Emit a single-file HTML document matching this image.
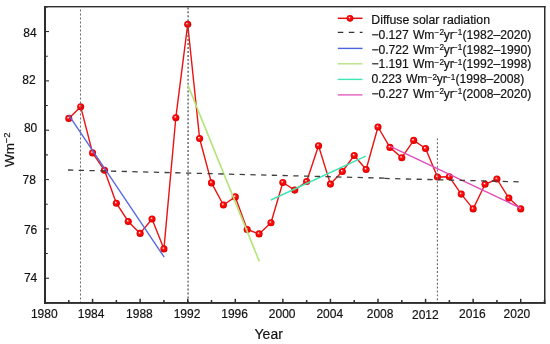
<!DOCTYPE html>
<html><head><meta charset="utf-8"><style>
html,body{margin:0;padding:0;background:#fff;}
body{width:550px;height:344px;overflow:hidden;}
svg{display:block;}
#w{width:550px;height:344px;}
</style></head><body><div id="w">
<svg width="550" height="344" viewBox="0 0 550 344">
<defs>
<radialGradient id="ball" cx="0.5" cy="0.5" r="0.5" fx="0.38" fy="0.36" gradientUnits="objectBoundingBox">
<stop offset="0" stop-color="#ffffff"/>
<stop offset="0.08" stop-color="#ffe8e8"/>
<stop offset="0.22" stop-color="#ff6a6a"/>
<stop offset="0.38" stop-color="#ff1010"/>
<stop offset="0.8" stop-color="#f20000"/>
<stop offset="1" stop-color="#cc0000"/>
</radialGradient>
</defs>
<rect x="0" y="0" width="550" height="344" fill="#ffffff"/>
<polyline points="68.79,118.4 80.68,106.7 92.57,152.9 104.47,170.3 116.36,203.2 128.25,221.5 140.14,233.4 152.04,219 163.93,248.9 175.82,117.7 187.72,24.3 199.61,138.5 211.5,182.9 223.4,205 235.29,196.9 247.18,229.5 259.07,233.9 270.97,222.8 282.86,182.5 294.75,190.1 306.65,181.5 318.54,145.8 330.43,184.1 342.33,171.5 354.22,155.5 366.11,169.5 378,127 389.9,147.4 401.79,157.7 413.68,140.4 425.58,148.5 437.47,177 449.36,176.8 461.25,194.1 473.15,208.9 485.04,184.3 496.93,179 508.83,198.1 520.72,208.9" fill="none" stroke="#ec1212" stroke-width="1.4" stroke-linejoin="round"/>
<circle cx="68.79" cy="118.4" r="3.55" fill="url(#ball)"/>
<circle cx="80.68" cy="106.7" r="3.55" fill="url(#ball)"/>
<circle cx="92.57" cy="152.9" r="3.55" fill="url(#ball)"/>
<circle cx="104.47" cy="170.3" r="3.55" fill="url(#ball)"/>
<circle cx="116.36" cy="203.2" r="3.55" fill="url(#ball)"/>
<circle cx="128.25" cy="221.5" r="3.55" fill="url(#ball)"/>
<circle cx="140.14" cy="233.4" r="3.55" fill="url(#ball)"/>
<circle cx="152.04" cy="219" r="3.55" fill="url(#ball)"/>
<circle cx="163.93" cy="248.9" r="3.55" fill="url(#ball)"/>
<circle cx="175.82" cy="117.7" r="3.55" fill="url(#ball)"/>
<circle cx="187.72" cy="24.3" r="3.55" fill="url(#ball)"/>
<circle cx="199.61" cy="138.5" r="3.55" fill="url(#ball)"/>
<circle cx="211.5" cy="182.9" r="3.55" fill="url(#ball)"/>
<circle cx="223.4" cy="205" r="3.55" fill="url(#ball)"/>
<circle cx="235.29" cy="196.9" r="3.55" fill="url(#ball)"/>
<circle cx="247.18" cy="229.5" r="3.55" fill="url(#ball)"/>
<circle cx="259.07" cy="233.9" r="3.55" fill="url(#ball)"/>
<circle cx="270.97" cy="222.8" r="3.55" fill="url(#ball)"/>
<circle cx="282.86" cy="182.5" r="3.55" fill="url(#ball)"/>
<circle cx="294.75" cy="190.1" r="3.55" fill="url(#ball)"/>
<circle cx="306.65" cy="181.5" r="3.55" fill="url(#ball)"/>
<circle cx="318.54" cy="145.8" r="3.55" fill="url(#ball)"/>
<circle cx="330.43" cy="184.1" r="3.55" fill="url(#ball)"/>
<circle cx="342.33" cy="171.5" r="3.55" fill="url(#ball)"/>
<circle cx="354.22" cy="155.5" r="3.55" fill="url(#ball)"/>
<circle cx="366.11" cy="169.5" r="3.55" fill="url(#ball)"/>
<circle cx="378" cy="127" r="3.55" fill="url(#ball)"/>
<circle cx="389.9" cy="147.4" r="3.55" fill="url(#ball)"/>
<circle cx="401.79" cy="157.7" r="3.55" fill="url(#ball)"/>
<circle cx="413.68" cy="140.4" r="3.55" fill="url(#ball)"/>
<circle cx="425.58" cy="148.5" r="3.55" fill="url(#ball)"/>
<circle cx="437.47" cy="177" r="3.55" fill="url(#ball)"/>
<circle cx="449.36" cy="176.8" r="3.55" fill="url(#ball)"/>
<circle cx="461.25" cy="194.1" r="3.55" fill="url(#ball)"/>
<circle cx="473.15" cy="208.9" r="3.55" fill="url(#ball)"/>
<circle cx="485.04" cy="184.3" r="3.55" fill="url(#ball)"/>
<circle cx="496.93" cy="179" r="3.55" fill="url(#ball)"/>
<circle cx="508.83" cy="198.1" r="3.55" fill="url(#ball)"/>
<circle cx="520.72" cy="208.9" r="3.55" fill="url(#ball)"/>
<line x1="80.5" y1="7.4" x2="80.5" y2="303" stroke="#6e6e6e" stroke-width="1.05" stroke-dasharray="2 2" stroke-dashoffset="-2.0"/>
<line x1="188.1" y1="7.4" x2="188.1" y2="303" stroke="#606060" stroke-width="1.4" stroke-dasharray="1.98 1.98" stroke-dashoffset="0.0"/>
<line x1="437.4" y1="138" x2="437.4" y2="303" stroke="#666" stroke-width="1.1" stroke-dasharray="1.95 1.95" stroke-dashoffset="-0.4"/>
<line x1="68.8" y1="115.1" x2="164.2" y2="257.2" stroke="#5068e6" stroke-width="1.35"/>
<line x1="187.9" y1="85.1" x2="259.3" y2="261.4" stroke="#b4e47a" stroke-width="1.6"/>
<line x1="270.9" y1="200.0" x2="365.8" y2="156.1" stroke="#40e4b4" stroke-width="1.5"/>
<line x1="390.2" y1="146.4" x2="520.8" y2="208.1" stroke="#e24cbc" stroke-width="1.5"/>
<line x1="68.0" y1="170" x2="384.4" y2="178.14" stroke="#3d3d3d" stroke-width="1.3" stroke-dasharray="5.3 5.43"/>
<line x1="384.4" y1="178.44" x2="518.7" y2="181.8" stroke="#3d3d3d" stroke-width="1.3" stroke-dasharray="5.3 5.45"/>
<rect x="44" y="6" width="2" height="298" fill="#2d2d2d"/>
<rect x="44" y="6" width="501.5" height="1.4" fill="#2d2d2d"/>
<rect x="44" y="302" width="501.5" height="1.9" fill="#2d2d2d"/>
<rect x="544" y="6" width="1.5" height="298" fill="#2d2d2d"/>
<line x1="45" y1="302" x2="45" y2="298.8" stroke="#2d2d2d" stroke-width="1.5"/>
<line x1="68.79" y1="302" x2="68.79" y2="300" stroke="#2d2d2d" stroke-width="1.5"/>
<line x1="92.57" y1="302" x2="92.57" y2="298.8" stroke="#2d2d2d" stroke-width="1.5"/>
<line x1="116.36" y1="302" x2="116.36" y2="300" stroke="#2d2d2d" stroke-width="1.5"/>
<line x1="140.14" y1="302" x2="140.14" y2="298.8" stroke="#2d2d2d" stroke-width="1.5"/>
<line x1="163.93" y1="302" x2="163.93" y2="300" stroke="#2d2d2d" stroke-width="1.5"/>
<line x1="187.72" y1="302" x2="187.72" y2="298.8" stroke="#2d2d2d" stroke-width="1.5"/>
<line x1="211.5" y1="302" x2="211.5" y2="300" stroke="#2d2d2d" stroke-width="1.5"/>
<line x1="235.29" y1="302" x2="235.29" y2="298.8" stroke="#2d2d2d" stroke-width="1.5"/>
<line x1="259.07" y1="302" x2="259.07" y2="300" stroke="#2d2d2d" stroke-width="1.5"/>
<line x1="282.86" y1="302" x2="282.86" y2="298.8" stroke="#2d2d2d" stroke-width="1.5"/>
<line x1="306.65" y1="302" x2="306.65" y2="300" stroke="#2d2d2d" stroke-width="1.5"/>
<line x1="330.43" y1="302" x2="330.43" y2="298.8" stroke="#2d2d2d" stroke-width="1.5"/>
<line x1="354.22" y1="302" x2="354.22" y2="300" stroke="#2d2d2d" stroke-width="1.5"/>
<line x1="378" y1="302" x2="378" y2="298.8" stroke="#2d2d2d" stroke-width="1.5"/>
<line x1="401.79" y1="302" x2="401.79" y2="300" stroke="#2d2d2d" stroke-width="1.5"/>
<line x1="425.58" y1="302" x2="425.58" y2="298.8" stroke="#2d2d2d" stroke-width="1.5"/>
<line x1="449.36" y1="302" x2="449.36" y2="300" stroke="#2d2d2d" stroke-width="1.5"/>
<line x1="473.15" y1="302" x2="473.15" y2="298.8" stroke="#2d2d2d" stroke-width="1.5"/>
<line x1="496.93" y1="302" x2="496.93" y2="300" stroke="#2d2d2d" stroke-width="1.5"/>
<line x1="520.72" y1="302" x2="520.72" y2="298.8" stroke="#2d2d2d" stroke-width="1.5"/>
<line x1="544.51" y1="302" x2="544.51" y2="300" stroke="#2d2d2d" stroke-width="1.5"/>
<line x1="46" y1="302.9" x2="47.8" y2="302.9" stroke="#2d2d2d" stroke-width="1.1"/>
<line x1="46" y1="278.23" x2="49" y2="278.23" stroke="#2d2d2d" stroke-width="1.1"/>
<line x1="46" y1="253.56" x2="47.8" y2="253.56" stroke="#2d2d2d" stroke-width="1.1"/>
<line x1="46" y1="228.89" x2="49" y2="228.89" stroke="#2d2d2d" stroke-width="1.1"/>
<line x1="46" y1="204.22" x2="47.8" y2="204.22" stroke="#2d2d2d" stroke-width="1.1"/>
<line x1="46" y1="179.55" x2="49" y2="179.55" stroke="#2d2d2d" stroke-width="1.1"/>
<line x1="46" y1="154.88" x2="47.8" y2="154.88" stroke="#2d2d2d" stroke-width="1.1"/>
<line x1="46" y1="130.21" x2="49" y2="130.21" stroke="#2d2d2d" stroke-width="1.1"/>
<line x1="46" y1="105.54" x2="47.8" y2="105.54" stroke="#2d2d2d" stroke-width="1.1"/>
<line x1="46" y1="80.87" x2="49" y2="80.87" stroke="#2d2d2d" stroke-width="1.1"/>
<line x1="46" y1="56.2" x2="47.8" y2="56.2" stroke="#2d2d2d" stroke-width="1.1"/>
<line x1="46" y1="31.53" x2="49" y2="31.53" stroke="#2d2d2d" stroke-width="1.1"/>
<line x1="46" y1="6.86" x2="47.8" y2="6.86" stroke="#2d2d2d" stroke-width="1.1"/>
<text x="44.3" y="317.8" font-family="Liberation Sans, Arial, sans-serif" stroke="#111" stroke-width="0.18" font-size="12" text-anchor="middle" fill="#111">1980</text>
<text x="91.07" y="317.8" font-family="Liberation Sans, Arial, sans-serif" stroke="#111" stroke-width="0.18" font-size="12" text-anchor="middle" fill="#111">1984</text>
<text x="139.44" y="317.8" font-family="Liberation Sans, Arial, sans-serif" stroke="#111" stroke-width="0.18" font-size="12" text-anchor="middle" fill="#111">1988</text>
<text x="187.02" y="317.8" font-family="Liberation Sans, Arial, sans-serif" stroke="#111" stroke-width="0.18" font-size="12" text-anchor="middle" fill="#111">1992</text>
<text x="234.59" y="317.8" font-family="Liberation Sans, Arial, sans-serif" stroke="#111" stroke-width="0.18" font-size="12" text-anchor="middle" fill="#111">1996</text>
<text x="282.16" y="317.8" font-family="Liberation Sans, Arial, sans-serif" stroke="#111" stroke-width="0.18" font-size="12" text-anchor="middle" fill="#111">2000</text>
<text x="329.73" y="317.8" font-family="Liberation Sans, Arial, sans-serif" stroke="#111" stroke-width="0.18" font-size="12" text-anchor="middle" fill="#111">2004</text>
<text x="380.1" y="317.8" font-family="Liberation Sans, Arial, sans-serif" stroke="#111" stroke-width="0.18" font-size="12" text-anchor="middle" fill="#111">2008</text>
<text x="425.38" y="319.3" font-family="Liberation Sans, Arial, sans-serif" stroke="#111" stroke-width="0.18" font-size="12" text-anchor="middle" fill="#111">2012</text>
<text x="472.45" y="317.8" font-family="Liberation Sans, Arial, sans-serif" stroke="#111" stroke-width="0.18" font-size="12" text-anchor="middle" fill="#111">2016</text>
<text x="516.92" y="317.8" font-family="Liberation Sans, Arial, sans-serif" stroke="#111" stroke-width="0.18" font-size="12" text-anchor="middle" fill="#111">2020</text>
<text x="36.6" y="37.2" font-family="Liberation Sans, Arial, sans-serif" stroke="#111" stroke-width="0.18" font-size="12" text-anchor="end" fill="#111">84</text>
<text x="35.6" y="84" font-family="Liberation Sans, Arial, sans-serif" stroke="#111" stroke-width="0.18" font-size="12" text-anchor="end" fill="#111">82</text>
<text x="37.3" y="131.9" font-family="Liberation Sans, Arial, sans-serif" stroke="#111" stroke-width="0.18" font-size="12" text-anchor="end" fill="#111">80</text>
<text x="35.9" y="183.7" font-family="Liberation Sans, Arial, sans-serif" stroke="#111" stroke-width="0.18" font-size="12" text-anchor="end" fill="#111">78</text>
<text x="37.3" y="233.8" font-family="Liberation Sans, Arial, sans-serif" stroke="#111" stroke-width="0.18" font-size="12" text-anchor="end" fill="#111">76</text>
<text x="37.3" y="282" font-family="Liberation Sans, Arial, sans-serif" stroke="#111" stroke-width="0.18" font-size="12" text-anchor="end" fill="#111">74</text>
<text x="268.7" y="338.6" font-family="Liberation Sans, Arial, sans-serif" stroke="#111" stroke-width="0.18" font-size="14" text-anchor="middle" fill="#111">Year</text>
<text transform="translate(13.5,166.9) rotate(-90) scale(0.99,1)" x="0" y="0" font-family="Liberation Sans, Arial, sans-serif" stroke="#111" stroke-width="0.18" font-size="13.6" fill="#111">Wm<tspan font-size="9.6" dy="-3.6" dx="-0.3">−2</tspan></text>
<line x1="337.8" y1="18.3" x2="362.5" y2="18.3" stroke="#e01010" stroke-width="1.5"/>
<circle cx="350.0" cy="18.3" r="3.35" fill="url(#ball)"/>
<line x1="337.8" y1="32.4" x2="362.5" y2="32.4" stroke="#333" stroke-width="1.4" stroke-dasharray="5.5 5.5"/>
<line x1="337.8" y1="48.4" x2="362.5" y2="48.4" stroke="#4a64e0" stroke-width="1.4"/>
<line x1="337.8" y1="63.8" x2="362.5" y2="63.8" stroke="#b8e283" stroke-width="1.4"/>
<line x1="337.8" y1="79.4" x2="362.5" y2="79.4" stroke="#3fe6b6" stroke-width="1.4"/>
<line x1="337.8" y1="94.9" x2="362.5" y2="94.9" stroke="#e45fbf" stroke-width="1.4"/>
<text x="371.3" y="23.7" font-family="Liberation Sans, Arial, sans-serif" stroke="#111" stroke-width="0.18" font-size="12.3" fill="#111">Diffuse solar radiation</text>
<text y="38.8" font-family="Liberation Sans, Arial, sans-serif" stroke="#111" stroke-width="0.18" font-size="12.15" fill="#111"><tspan x="371.4">−0.127</tspan><tspan x="412.9">Wm</tspan><tspan x="434.6" font-size="8.2" dy="-3.4">−2</tspan><tspan x="443.8" dy="3.4">yr</tspan><tspan x="453" font-size="8.2" dy="-3.4">−1</tspan><tspan x="462.5" dy="3.4">(1982–2020)</tspan></text>
<text y="53.5" font-family="Liberation Sans, Arial, sans-serif" stroke="#111" stroke-width="0.18" font-size="12.15" fill="#111"><tspan x="371.4">−0.722</tspan><tspan x="412.9">Wm</tspan><tspan x="434.6" font-size="8.2" dy="-3.4">−2</tspan><tspan x="443.8" dy="3.4">yr</tspan><tspan x="453" font-size="8.2" dy="-3.4">−1</tspan><tspan x="462.5" dy="3.4">(1982–1990)</tspan></text>
<text y="68.1" font-family="Liberation Sans, Arial, sans-serif" stroke="#111" stroke-width="0.18" font-size="12.15" fill="#111"><tspan x="371.4">−1.191</tspan><tspan x="412.9">Wm</tspan><tspan x="434.6" font-size="8.2" dy="-3.4">−2</tspan><tspan x="443.8" dy="3.4">yr</tspan><tspan x="453" font-size="8.2" dy="-3.4">−1</tspan><tspan x="462.5" dy="3.4">(1992–1998)</tspan></text>
<text y="83.1" font-family="Liberation Sans, Arial, sans-serif" stroke="#111" stroke-width="0.18" font-size="12.15" fill="#111"><tspan x="371.4">0.223</tspan><tspan x="405.9">Wm</tspan><tspan x="427.6" font-size="8.2" dy="-3.4">−2</tspan><tspan x="436.8" dy="3.4">yr</tspan><tspan x="446" font-size="8.2" dy="-3.4">−1</tspan><tspan x="455.5" dy="3.4">(1998–2008)</tspan></text>
<text y="97.6" font-family="Liberation Sans, Arial, sans-serif" stroke="#111" stroke-width="0.18" font-size="12.15" fill="#111"><tspan x="371.4">−0.227</tspan><tspan x="412.9">Wm</tspan><tspan x="434.6" font-size="8.2" dy="-3.4">−2</tspan><tspan x="443.8" dy="3.4">yr</tspan><tspan x="453" font-size="8.2" dy="-3.4">−1</tspan><tspan x="462.5" dy="3.4">(2008–2020)</tspan></text>
</svg>
</div></body></html>
